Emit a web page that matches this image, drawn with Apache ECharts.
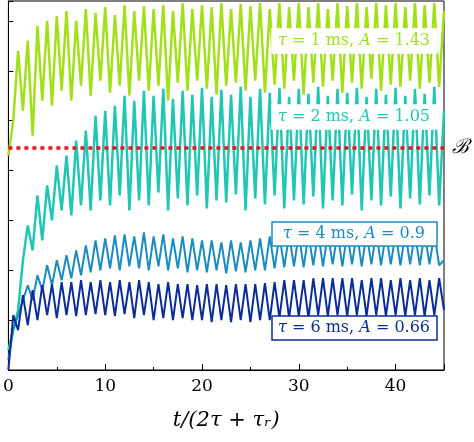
<!DOCTYPE html>
<html><head><meta charset="utf-8">
<script src="https://cdn.jsdelivr.net/npm/echarts@6/dist/echarts.min.js"></script>
<style>html,body{margin:0;padding:0;background:#fff}#c{width:474px;height:442px}</style>
</head><body><div id="c"></div>
<script>
const tStep = 0.5;
const tau1 = [215,250,320,260,330,235,345,270,350,265,355,280,360,270,350,285,362,275,358,290,364,278,356,285,366,275,360,290,365,280,362,285,366,270,360,288,368,280,362,290,366,282,364,276,368,285,362,288,367,280,365,290,368,278,362,286,368,282,364,290,368,276,364,288,368,284,362,290,368,278,365,288,368,282,364,292,368,280,366,286,368,284,364,290,368,282,366,288,368,284,360];
const tau2 = [20,40,60,110,145,120,175,130,185,150,205,160,215,155,230,165,240,160,255,170,260,165,265,175,275,160,270,170,280,165,275,178,282,160,272,172,280,165,276,175,283,162,274,170,281,168,276,176,284,160,274,172,282,166,278,175,283,162,274,170,282,166,277,174,284,162,275,170,282,165,278,176,283,160,274,170,282,165,276,174,283,162,275,172,282,166,277,175,284,165,260];
const tau4 = [10,40,55,70,85,70,95,80,105,85,110,90,115,92,120,95,125,98,130,100,132,102,135,100,136,104,134,102,138,100,134,104,136,100,132,102,134,98,132,100,130,98,130,100,128,97,130,99,128,98,130,100,132,100,134,102,135,103,136,104,137,103,136,105,138,104,137,106,138,104,137,106,138,104,137,106,138,105,138,106,137,105,138,106,137,105,138,106,137,105,110];
const tau6 = [0,55,40,75,45,80,50,85,55,86,52,88,55,88,54,90,55,88,56,90,55,88,54,90,56,88,52,90,55,88,50,86,52,88,50,86,52,86,50,85,50,86,48,86,50,85,48,86,50,86,48,86,50,87,50,88,52,90,52,90,54,90,52,92,55,92,54,92,55,92,54,92,55,90,54,92,55,92,54,90,55,92,54,90,55,92,54,90,55,92,60];
const bLevel = 223;
const labelTau = ['1','2','4','6'];
const labelA = ['1.43','1.05','0.9','0.66'];
const colors = ['#a3e01c','#22c6b4','#1a8cbf','#0b2e96'];
const pair = a => a.map((v,i)=>[i*tStep, v]);
const serif = '"DejaVu Serif", "Liberation Serif", serif';
const chart = echarts.init(document.getElementById('c'));
const boxes = [[272,29],[272,105],[272,222],[272,316]];
chart.setOption({
  animation:false,
  grid:{left:5,right:30,top:1,bottom:72,show:true,borderColor:'#000',borderWidth:1},
  xAxis:{type:'value',min:0,max:45,interval:10,
    name:'t/(2τ + τ\u1D63)',nameLocation:'middle',nameGap:40,
    nameTextStyle:{fontFamily:serif,fontStyle:'italic',fontSize:21,color:'#000'},
    axisLine:{lineStyle:{color:'#000'}},axisTick:{inside:true,length:6,lineStyle:{color:'#000'}},
    minorTick:{show:true,splitNumber:2,length:3,lineStyle:{color:'#000'}},
    axisLabel:{fontFamily:serif,fontSize:17,color:'#000',margin:8,showMaxLabel:false},splitLine:{show:false}},
  yAxis:{type:'value',min:0,max:370,interval:50,
    axisLine:{show:true,lineStyle:{color:'#000'}},axisTick:{inside:true,length:5,lineStyle:{color:'#000'}},
    axisLabel:{show:false},splitLine:{show:false}},
  series:[tau1,tau2,tau4,tau6].map((d,i)=>({type:'line',data:pair(d),showSymbol:false,
    lineStyle:{color:colors[i],width:i<2?2.5:2},itemStyle:{color:colors[i]},z:2+i,
    markLine: i===0 ? {silent:true,symbol:'none',z:10,
      lineStyle:{color:'#e8141c',type:[4,4],width:3.5},
      label:{position:'end',formatter:'ℬ',fontFamily:serif,fontStyle:'italic',fontSize:20,color:'#000',distance:8},
      data:[{yAxis:bLevel}]} : undefined})),
  graphic: labelTau.map((t,i)=>({type:'group',x:boxes[i][0],y:boxes[i][1],z:100,children:[
    {type:'rect',z:100,shape:{x:0,y:0,width:165,height:24},style:{fill:'#fff',stroke:i<2?'#fff':colors[i],lineWidth:1.5}},
    {type:'text',z:101,x:82,y:12,style:{
      text:'{i|τ} = '+t+' ms, {i|A} = '+labelA[i],
      rich:{i:{fontStyle:'italic',fontFamily:serif,fontSize:16,fill:colors[i]}},
      fill:colors[i],font:'16px '+serif,align:'center',verticalAlign:'middle'}}]}))
});
</script></body></html>
